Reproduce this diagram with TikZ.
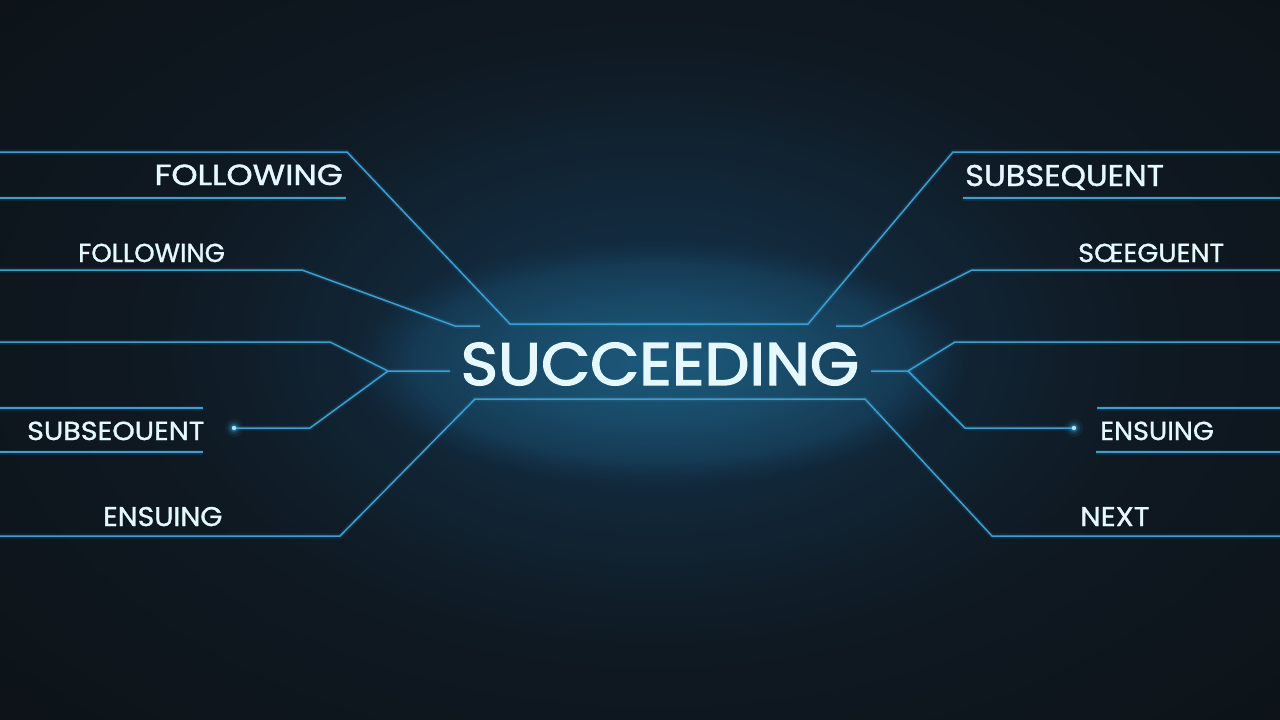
\documentclass[tikz,border=0pt]{standalone}
\usepackage{fontspec}
\usepackage{graphicx}
\usetikzlibrary{fadings}
\setmainfont{Poppins}[FakeBold=1.2]
\newfontfamily\heavyfont{Poppins}[FakeBold=2.2]
\definecolor{bg}{HTML}{0D1318}
\definecolor{bgmid}{HTML}{0F1922}
\definecolor{glow}{HTML}{133047}
\definecolor{glowhi}{HTML}{1C5A7C}
\definecolor{wire}{HTML}{3C9FD2}
\definecolor{txt}{HTML}{E6F8FF}
\definecolor{halocol}{HTML}{39B8F0}
\pgfdeclareradialshading{bigglow}{\pgfpoint{0bp}{0bp}}{%
  color(0bp)=(glow); color(6bp)=(glow!70!bgmid); color(14bp)=(bgmid); color(25bp)=(bg); color(50bp)=(bg)}
\pgfdeclareradialshading{coreglow}{\pgfpoint{0bp}{0bp}}{%
  color(0bp)=(glowhi); color(12bp)=(glowhi!60!glow); color(25bp)=(glow); color(50bp)=(glow)}
\begin{document}
\begin{tikzpicture}[x=1pt,y=-1pt,
  wire/.style={draw=wire, line width=1.5pt, line join=round},
  wirehalo/.style={draw=halocol, line width=5pt, opacity=0.10, line join=round},
  word/.style={text=txt, inner sep=0pt},
  spark/.style={fill=white!60!halocol}]
\useasboundingbox (0,0) rectangle (1280,720);
\fill[bg] (0,0) rectangle (1280,720);
\shade[shading=bigglow] (655,345) ellipse [x radius=880, y radius=540];
\begin{scope}
\clip (0,0) rectangle (1280,720);
\shade[shading=coreglow, path fading=circle with fuzzy edge 20 percent] (660,362) ellipse [x radius=310, y radius=125];
\end{scope}

% named points
\coordinate (a0) at (0,152);   \coordinate (a1) at (347,152);
\coordinate (a2) at (510,324); \coordinate (a3) at (808,324);
\coordinate (a4) at (953,152); \coordinate (a5) at (1280,152);
\coordinate (b0) at (0,198);   \coordinate (b1) at (346,198);
\coordinate (c0) at (0,270);   \coordinate (c1) at (302,270);
\coordinate (c2) at (455,326); \coordinate (c3) at (480,326);
\coordinate (d0) at (0,342);   \coordinate (d1) at (330,342);
\coordinate (dj) at (388,371); \coordinate (d3) at (450,371);
\coordinate (e1) at (310,428); \coordinate (dotL) at (234,428);
\coordinate (f0) at (0,408);   \coordinate (f1) at (203,408);
\coordinate (g0) at (0,452);   \coordinate (g1) at (203,452);
\coordinate (h0) at (0,536);   \coordinate (h1) at (340,536);
\coordinate (h2) at (475,399); \coordinate (h3) at (865,399);
\coordinate (h4) at (992,536); \coordinate (h5) at (1280,536);
\coordinate (rb0) at (963,198); \coordinate (rb1) at (1280,198);
\coordinate (rc0) at (836,326); \coordinate (rc1) at (862,326);
\coordinate (rc2) at (972,270); \coordinate (rc3) at (1280,270);
\coordinate (rd0) at (871,371); \coordinate (rj) at (908,371);
\coordinate (rd2) at (955,342); \coordinate (rd3) at (1280,342);
\coordinate (re1) at (965,428); \coordinate (dotR) at (1074,428);
\coordinate (rf0) at (1097,408); \coordinate (rf1) at (1280,408);
\coordinate (rg0) at (1096,452); \coordinate (rg1) at (1280,452);

\foreach \s in {wirehalo, wire}{
  \draw[\s] (a0) -- (a1) -- (a2) -- (a3) -- (a4) -- (a5);
  \draw[\s] (b0) -- (b1);
  \draw[\s] (c0) -- (c1) -- (c2) -- (c3);
  \draw[\s] (d0) -- (d1) -- (dj) -- (d3);
  \draw[\s] (dj) -- (e1) -- (dotL);
  \draw[\s] (f0) -- (f1);
  \draw[\s] (g0) -- (g1);
  \draw[\s] (h0) -- (h1) -- (h2) -- (h3) -- (h4) -- (h5);
  \draw[\s] (rb0) -- (rb1);
  \draw[\s] (rc0) -- (rc1) -- (rc2) -- (rc3);
  \draw[\s] (rd0) -- (rj) -- (rd2) -- (rd3);
  \draw[\s] (rj) -- (re1) -- (dotR);
  \draw[\s] (rf0) -- (rf1);
  \draw[\s] (rg0) -- (rg1);
}

% glowing end points
\foreach \p in {dotL, dotR}{
  \foreach \r/\o in {9/0.07, 6/0.14, 4/0.28}{
    \fill[halocol, opacity=\o] (\p) circle (\r);
  }
  \fill[spark] (\p) circle (2.2);
}

% words
\node[word, anchor=base east, font=\fontsize{29}{29}\selectfont] (tFol1) at (343,185) {\scalebox{1.15}[1]{FOLLOWING}};
\node[word, anchor=base west, font=\fontsize{26}{26}\selectfont] (tFol2) at (78,262) {FOLLOWING};
\node[word, anchor=base west, font=\fontsize{26}{26}\selectfont] (tSubL) at (27,440) {\scalebox{1.1}[1]{SUBSEOUENT}};
\node[word, anchor=base west, font=\fontsize{27}{27}\selectfont] (tEnsL) at (103,526) {\scalebox{1.05}[1]{ENSUING}};
\node[word, anchor=base west, font=\fontsize{30}{30}\selectfont] (tSubR) at (965,186) {\scalebox{1.07}[1]{SUBSEQUENT}};
\node[word, anchor=base west, font=\fontsize{26}{26}\selectfont] (tSoe) at (1078,262) {\scalebox{1.04}[1]{SŒEGUENT}};
\node[word, anchor=base west, font=\fontsize{26}{26}\selectfont] (tEnsR) at (1100,440) {\scalebox{1.04}[1]{ENSUING}};
\node[word, anchor=base west, font=\fontsize{27}{27}\selectfont] (tNext) at (1080,526) {\scalebox{1.08}[1]{NEXT}};

% main word
\node[word, anchor=base, font=\heavyfont\fontsize{60}{60}\selectfont] (tMain) at (660,385) {\scalebox{1.06}[1]{SUCCEEDING}};
\end{tikzpicture}
\end{document}
